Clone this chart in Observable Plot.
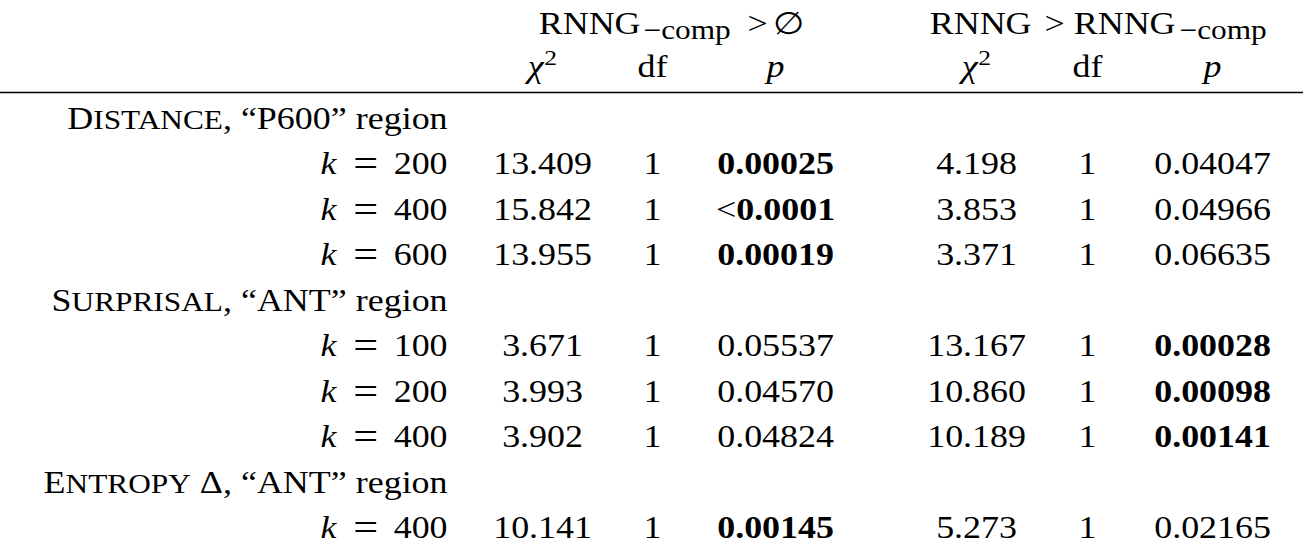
<!DOCTYPE html>
<html><head><meta charset="utf-8">
<script src="https://cdn.jsdelivr.net/npm/d3@7"></script>
<script src="https://cdn.jsdelivr.net/npm/@observablehq/plot@0.6"></script>
<style>
html,body{margin:0;padding:0;background:#fff;}
#chart svg{display:block;}
</style></head>
<body><div id="chart"></div>
<script>
// ---- data ----
const groupNames = ["Distance", "Surprisal", "Entropy"];
const groupTails = [", “P600” region", ", “ANT” region", " Δ, “ANT” region"];
const kGroup  = [0, 0, 0, 1, 1, 1, 2];
const kValues = [200, 400, 600, 100, 200, 400, 400];
const chi1 = [13.409, 15.842, 13.955, 3.671, 3.993, 3.902, 10.141];
const df1  = [1, 1, 1, 1, 1, 1, 1];
const p1   = ["0.00025", "<0.0001", "0.00019", "0.05537", "0.04570", "0.04824", "0.00145"];
const p1Bold = [true, true, true, false, false, false, true];
const chi2 = [4.198, 3.853, 3.371, 13.167, 10.860, 10.189, 5.273];
const df2  = [1, 1, 1, 1, 1, 1, 1];
const p2   = ["0.04047", "0.04966", "0.06635", "0.00028", "0.00098", "0.00141", "0.02165"];
const p2Bold = [false, false, false, true, true, true, false];
const headerA = ["RNNG", "−comp", ">", "∅"];
const headerB = ["RNNG", ">", "RNNG", "−comp"];
const statHeads = ["χ", "2", "df", "p"];

// ---- layout (reference pixels) ----
const SX = 1.16;            // horizontal stretch of the reference glyphs
const W = 1307, H = 550, FS = 31, SC = 27;
const colX = [447, 542, 652, 775, 976, 1087, 1212];
const rowY = i => i === -2 ? 33 : i === -1 ? 76 : 128 + 45.5 * i;
const ruleAt = 92;
const FONT = "Liberation Serif";

const ctx = document.createElement("canvas").getContext("2d");
function tw(text, weight = "normal", style = "normal", size = FS) {
  ctx.font = `${style} ${weight} ${size}px "${FONT}"`;
  return ctx.measureText(text).width;
}

// build table rows
let r = 0;
const groupRow = [];
const rows = kValues.map((k, i) => ({
  k, group: kGroup[i], chi1: chi1[i], df1: df1[i], p1: p1[i], p1Bold: p1Bold[i],
  chi2: chi2[i], df2: df2[i], p2: p2[i], p2Bold: p2Bold[i]
}));
groupNames.forEach((g, gi) => {
  groupRow[gi] = r++;
  rows.filter(d => d.group === gi).forEach(d => d.row = r++);
});
const fmt = d3.format(".3f");

const T = (data, col, row, o) => Plot.text(data, {
  x: () => colX[col], y: typeof row === "function" ? d => rowY(row(d)) : () => rowY(row),
  fill: "black", fontSize: FS, lineAnchor: "bottom", ...o});
const one = [0];
const R = d => d.row;
const marks = [];

marks.push(Plot.ruleY([ruleAt], {stroke: "black", strokeWidth: 1.7}));

// comparison headers
const hdrLayout = [
  {ref: 2, items: [
    {t: headerA[0], px: 640, a: "end"},
    {t: headerA[1], px: 643, a: "start", sub: true},
    {t: headerA[2], px: 757, a: "middle"},
    {t: headerA[3], px: 788, a: "middle"}]},
  {ref: 5, items: [
    {t: headerB[0], px: 1031, a: "end"},
    {t: headerB[1], px: 1054, a: "middle"},
    {t: headerB[2], px: 1175, a: "end"},
    {t: headerB[3], px: 1179, a: "start", sub: true}]}
];
for (const h of hdrLayout) {
  for (const it of h.items) {
    marks.push(T(one, h.ref, -2, {text: () => it.t, textAnchor: it.a,
      dx: (it.px - colX[h.ref]) / SX, fontSize: it.sub ? 27 : FS, dy: it.sub ? 5 : 0}));
  }
}
// stat headers
for (const c of [1, 4]) {
  marks.push(T(one, c, -1, {text: () => statHeads[0], fontStyle: "italic", textAnchor: "middle", dx: -7 / SX}));
  marks.push(T(one, c, -1, {text: () => statHeads[1], fontSize: 22, textAnchor: "middle", dx: 8 / SX, dy: -12}));
}
for (const c of [2, 5]) marks.push(T(one, c, -1, {text: () => statHeads[2], textAnchor: "middle"}));
for (const c of [3, 6]) marks.push(T(one, c, -1, {text: () => statHeads[3], fontStyle: "italic", textAnchor: "middle"}));

// group row labels: small caps (first letter full size, rest smaller capitals) + tail
groupNames.forEach((g, gi) => {
  const tail = groupTails[gi];
  const first = g.slice(0, 1).toUpperCase();
  const rest = g.slice(1).toUpperCase();
  const wTail = tw(tail);
  const wRest = tw(rest, "normal", "normal", SC);
  marks.push(T(one, 0, groupRow[gi], {text: () => tail, textAnchor: "end"}));
  marks.push(T(one, 0, groupRow[gi], {text: () => rest, fontSize: SC, textAnchor: "end", dx: -wTail}));
  marks.push(T(one, 0, groupRow[gi], {text: () => first, textAnchor: "end", dx: -wTail - wRest}));
});

// k rows labels
marks.push(T(rows, 0, R, {text: () => "k", fontStyle: "italic", textAnchor: "end", dx: (336 - 447) / SX}));
marks.push(T(rows, 0, R, {text: () => "=", fontSize: 38, textAnchor: "middle", dx: (365 - 447) / SX, dy: 2}));
marks.push(T(rows, 0, R, {text: d => String(d.k), textAnchor: "end"}));

// numeric columns
marks.push(T(rows, 1, R, {text: d => fmt(d.chi1), textAnchor: "middle"}));
marks.push(T(rows, 2, R, {text: d => String(d.df1), textAnchor: "middle"}));
marks.push(T(rows, 4, R, {text: d => fmt(d.chi2), textAnchor: "middle"}));
marks.push(T(rows, 5, R, {text: d => String(d.df2), textAnchor: "middle"}));

function pMarks(key, boldKey, col) {
  for (const d of rows) {
    const s = d[key];
    const pre = s.startsWith("<") ? "<" : "";
    const num = s.slice(pre.length);
    const wt = d[boldKey] ? "bold" : "normal";
    const lw = pre ? tw(pre) : 0;
    marks.push(T([d], col, R, {text: () => num, fontWeight: wt, textAnchor: "middle", dx: lw / 2}));
    if (pre) marks.push(T([d], col, R, {text: () => pre, textAnchor: "end", dx: -tw(num, wt) / 2 + lw / 2}));
  }
}
pMarks("p1", "p1Bold", 3);
pMarks("p2", "p2Bold", 6);

const svg = Plot.plot({
  width: W / SX, height: H,
  marginLeft: 0, marginRight: 4 / SX, marginTop: 0, marginBottom: 0,
  style: {fontFamily: FONT, background: "white", color: "black", fontSize: FS + "px"},
  x: {axis: null, type: "linear", domain: [0, W], range: [0, W / SX]},
  y: {axis: null, type: "linear", domain: [0, H], range: [0, H]},
  marks
});
svg.setAttribute("width", W);
svg.setAttribute("height", H);
svg.setAttribute("preserveAspectRatio", "none");
svg.style.maxWidth = "none";
svg.style.width = W + "px";
svg.style.height = H + "px";
document.getElementById("chart").appendChild(svg);
</script>
</body></html>
